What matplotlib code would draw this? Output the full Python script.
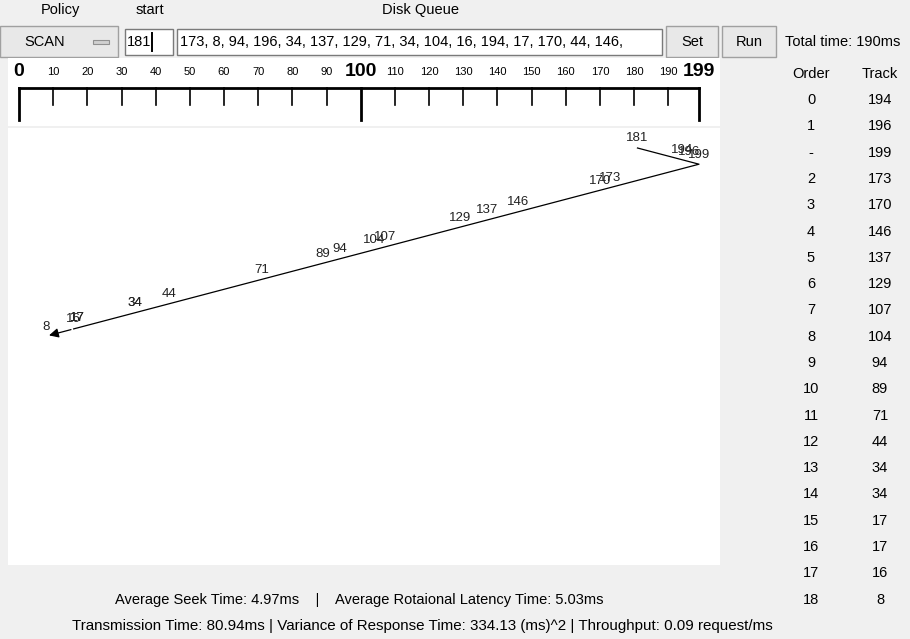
import matplotlib.pyplot as plt
from matplotlib.patches import Rectangle
import numpy as np

# visit order of the SCAN run (start 181, goes up to 199, then down)
path = [181, 194, 196, 199, 173, 170, 146, 137, 129, 107, 104, 94, 89, 71, 44, 34, 34, 17, 17, 16, 8]
order_labels = ['0', '1', '-', '2', '3', '4', '5', '6', '7', '8', '9', '10',
                '11', '12', '13', '14', '15', '16', '17', '18']
order_tracks = [194, 196, 199, 173, 170, 146, 137, 129, 107, 104, 94, 89, 71, 44, 34, 34, 17, 17, 16, 8]
queue_text = '173, 8, 94, 196, 34, 137, 129, 71, 34, 104, 16, 194, 17, 170, 44, 146,'
ruler_ticks = list(range(0, 200, 10)) + [199]

W, H = 910, 639
BG = '#f0f0f0'
fig = plt.figure(figsize=(W / 100, H / 100), dpi=100, facecolor=BG)
plt.rcParams['font.family'] = ['Liberation Sans', 'DejaVu Sans']


def px_axes(x0, y0, x1, y1, **kw):
    return fig.add_axes([x0 / W, 1 - y1 / H, (x1 - x0) / W, (y1 - y0) / H], **kw)


# background pixel axes for widgets
bg = px_axes(0, 0, W, H)
bg.set_xlim(0, W)
bg.set_ylim(H, 0)
bg.axis('off')

bg.text(60, 10, 'Policy', ha='center', va='center', fontsize=10.5)
bg.text(150, 10, 'start', ha='center', va='center', fontsize=10.5)
bg.text(420, 10, 'Disk Queue', ha='center', va='center', fontsize=10.5)


def button(x0, y0, x1, y1, label, tx=None):
    bg.add_patch(Rectangle((x0, y0), x1 - x0, y1 - y0, facecolor='#e8e8e8', edgecolor='#a0a0a0', lw=1))
    bg.text(tx if tx else (x0 + x1) / 2, (y0 + y1) / 2, label, ha='center', va='center', fontsize=10.5)


button(0, 26, 118, 57, 'SCAN', tx=45)
bg.add_patch(Rectangle((93, 40), 16, 4, facecolor='#d0d0d0', edgecolor='#909090', lw=0.8))
bg.add_patch(Rectangle((125, 29), 48, 26, facecolor='white', edgecolor='#7a7a7a', lw=1))
bg.text(127, 42, '181', ha='left', va='center', fontsize=10.5)
bg.plot([152, 152], [33, 51], color='black', lw=1.4)
bg.add_patch(Rectangle((177, 29), 485, 26, facecolor='white', edgecolor='#7a7a7a', lw=1))
bg.text(180, 42, queue_text, ha='left', va='center', fontsize=10.5)
button(666, 26, 718, 57, 'Set')
button(722, 26, 776, 57, 'Run')
bg.text(785, 42, 'Total time: 190ms', ha='left', va='center', fontsize=10.5)

# order / track table
bg.text(811, 74, 'Order', ha='center', va='center', fontsize=10.5)
bg.text(880, 74, 'Track', ha='center', va='center', fontsize=10.5)
for i, (o, t) in enumerate(zip(order_labels, order_tracks)):
    y = 100 + 26.3 * i
    bg.text(811, y, o, ha='center', va='center', fontsize=10.5)
    bg.text(880, y, str(t), ha='center', va='center', fontsize=10.5)

bg.text(359, 600, 'Average Seek Time: 4.97ms    |    Average Rotaional Latency Time: 5.03ms',
        ha='center', va='center', fontsize=10.5)
bg.text(422, 626, 'Transmission Time: 80.94ms | Variance of Response Time: 334.13 (ms)^2 | Throughput: 0.09 request/ms',
        ha='center', va='center', fontsize=10.9)

# track -> pixel mapping shared by ruler and plot
scale = 680 / 199
xlo = -(19 - 8) / scale
xhi = xlo + 712 / scale

# ruler
ru = px_axes(8, 58, 720, 126)
ru.set_xlim(xlo, xhi)
ru.set_ylim(68, 0)
ru.axis('off')
ru.add_patch(Rectangle((0, 0), 1, 1, transform=ru.transAxes, facecolor='white', edgecolor='none', zorder=0))
ru.plot([0, 199], [30, 30], color='black', lw=2)
for t in ruler_ticks:
    big = t in (0, 100, 199)
    ru.plot([t, t], [30, 62 if big else 47], color='black', lw=2 if big else 1.2)
    if big:
        ru.text(t, 14, str(t), ha='center', va='center', fontsize=14, fontweight='bold')
    else:
        ru.text(t, 14, str(t), ha='center', va='center', fontsize=8)

# seek plot
ax = px_axes(8, 128, 720, 565)
ax.set_facecolor('white')
ax.set_xlim(xlo, xhi)
dist = np.concatenate([[0], np.cumsum(np.abs(np.diff(path)))])
ax.set_ylim((565 - 148) / 0.9, (128 - 148) / 0.9)
ax.set_xticks([])
ax.set_yticks([])
for s in ax.spines.values():
    s.set_visible(False)
ax.plot(path[:-1], dist[:-1], color='black', lw=0.9)
ax.annotate('', xy=(path[-1], dist[-1]), xytext=(path[-2], dist[-2]),
            arrowprops=dict(arrowstyle='-|>', color='black', lw=0.9, mutation_scale=14))
for t, d in zip(path, dist):
    ax.text(t, d - 4, str(t), ha='center', va='bottom', fontsize=9.5, color='#222222')

fig.savefig('out.png', dpi=100, facecolor=BG)
